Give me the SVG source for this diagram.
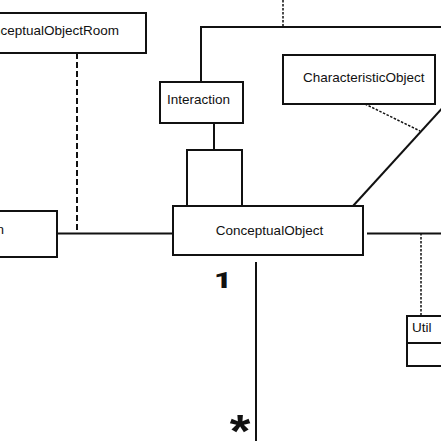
<svg xmlns="http://www.w3.org/2000/svg" width="441" height="441" viewBox="0 0 441 441">
<style>
.box{fill:#fff;stroke:#111;stroke-width:2}
.ln{fill:none;stroke:#111;stroke-width:2}
.dash{fill:none;stroke:#111;stroke-width:2;stroke-dasharray:6 3}
.dot{fill:none;stroke:#111;stroke-width:1.5;stroke-dasharray:2.5 1.5}
.t{font-family:"Liberation Sans",Arial,sans-serif;font-size:13.5px;fill:#111}
.m{font-family:"Liberation Sans",Arial,sans-serif;font-weight:bold;fill:#111}
.one{font-family:Roboto,"Liberation Sans",sans-serif;font-weight:900;fill:#111;font-size:22px}
</style>
<rect width="441" height="441" fill="#fff"/>
<g id="connectors">
<path class="dash" d="M77,53 V233"/>
<path class="ln" d="M57,233.5 H173"/>
<path class="ln" d="M201,82 V27 H441"/>
<path class="dot" d="M283,0 V27"/>
<path class="ln" d="M214,123 V150"/>
<path class="dot" d="M365,104 L420,131"/>
<path class="ln" d="M353,206 L446,104"/>
<path class="ln" d="M367,233.5 H441"/>
<path class="dot" d="M421,233 V316"/>
<path class="ln" d="M256,262 V441"/>
<text class="one" transform="translate(223,288) scale(1.4,1)" text-anchor="middle">1</text>
<text class="m" transform="translate(240,447) scale(1.15,1)" font-size="46" text-anchor="middle">*</text>
</g>
<g id="ConceptualObjectRoom">
<rect class="box" x="-10" y="13" width="156" height="40"/>
<text class="t" x="119" y="35" text-anchor="end">ConceptualObjectRoom</text>
</g>
<g id="LeftNode">
<rect class="box" x="-10" y="211" width="67" height="46"/>
<text class="t" x="4" y="234" text-anchor="end">n</text>
</g>
<g id="Interaction">
<rect class="box" x="160" y="82" width="83" height="41"/>
<text class="t" x="167" y="104">Interaction</text>
</g>
<g id="SelfLoop">
<rect class="box" x="187" y="150" width="55" height="56"/>
</g>
<g id="ConceptualObject">
<rect class="box" x="173" y="206" width="190" height="49"/>
<text class="t" x="269.5" y="235" text-anchor="middle">ConceptualObject</text>
</g>
<g id="CharacteristicObject">
<rect class="box" x="283" y="55" width="152" height="49"/>
<text class="t" x="303" y="82">CharacteristicObject</text>
</g>
<g id="Util">
<rect class="box" x="407" y="316" width="50" height="50"/>
<path class="ln" d="M407,343 H441"/>
<text class="t" x="412" y="332">Util</text>
</g>
</svg>
